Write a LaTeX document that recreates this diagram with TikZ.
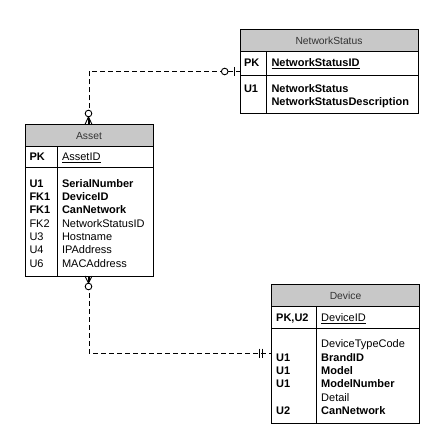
\documentclass[tikz,border=0pt]{standalone}
\usepackage{fontspec}
\setmainfont{Liberation Sans}
\usepackage{tikz}
\usetikzlibrary{positioning}
\usetikzlibrary{calc}
\definecolor{headgray}{RGB}{200,200,200}

\begin{document}
\begin{tikzpicture}[x=1pt, y=-1pt, line width=1pt]
			\tikzstyle{head}=[draw=black, fill=headgray, anchor=north west, inner sep=0pt, text=black!80, font=\fontsize{10.3}{12}\selectfont]
			\tikzstyle{cell}=[draw=black, anchor=north west, inner sep=0pt]
			\tikzstyle{fld}=[inner sep=0pt, anchor=base west, font=\fontsize{11}{13}\selectfont]
			\tikzstyle{fldb}=[inner sep=0pt, anchor=base west, font=\fontsize{11}{13}\selectfont\bfseries]
			\tikzstyle{rel}=[dash pattern=on 5pt off 3pt, line width=0.9pt]
			\tikzstyle{tick}=[line width=0.9pt]
			
			\useasboundingbox (0,0) rectangle (447,438);
			
			% NetworkStatus
			\draw node at (239.5, 29.5) [head, minimum width=178pt, minimum height=22pt] (nshead) {NetworkStatus};
			\draw node at (239.5, 51.5) [cell, minimum width=26.5pt, minimum height=24pt] (nspkkey) {};
			\draw node at (266, 51.5) [cell, minimum width=151.5pt, minimum height=24pt] (nspkfld) {};
			\draw node at (239.5, 75.5) [cell, minimum width=26.5pt, minimum height=38pt] (nskey) {};
			\draw node at (266, 75.5) [cell, minimum width=151.5pt, minimum height=38pt] (nsfld) {};
			
			\draw node at (243.5, 66.3) [fldb] (nspk) {PK};
			\draw node at (271, 66.3) [fldb] (nsid) {\underline{NetworkStatusID}};
			\draw node at (243.5, 92.1) [fldb] (nsu1) {U1};
			\draw node at (271, 92.1) [fldb] (nsstatus) {NetworkStatus};
			\draw node at (271, 105.5) [fldb] (nsdesc) {NetworkStatusDescription};
			
			% Asset
			\draw node at (24.5, 124.5) [head, minimum width=128pt, minimum height=21.5pt] (ashead) {Asset};
			\draw node at (24.5, 146) [cell, minimum width=32pt, minimum height=21.5pt] (aspkkey) {};
			\draw node at (56.5, 146) [cell, minimum width=96pt, minimum height=21.5pt] (aspkfld) {};
			\draw node at (24.5, 167.5) [cell, minimum width=32pt, minimum height=108.5pt] (askey) {};
			\draw node at (56.5, 167.5) [cell, minimum width=96pt, minimum height=108.5pt] (asfld) {};
			
			\draw node at (29, 160.5) [fldb] (aspk) {PK};
			\draw node at (61.5, 160.5) [fld] (asid) {\underline{AssetID}};
			\draw node at (29, 187.1) [fldb] (asu1) {U1};
			\draw node at (61.5, 187.1) [fldb] (asserial) {SerialNumber};
			\draw node at (29, 200.4) [fldb] (asfk1) {FK1};
			\draw node at (61.5, 200.4) [fldb] (asdevice) {DeviceID};
			\draw node at (29, 213.8) [fldb] (asfk1b) {FK1};
			\draw node at (61.5, 213.8) [fldb] (ascan) {CanNetwork};
			\draw node at (29, 227.1) [fld] (asfk2) {FK2};
			\draw node at (61.5, 227.1) [fld] (asstatus) {NetworkStatusID};
			\draw node at (29, 240.4) [fld] (asu3) {U3};
			\draw node at (61.5, 240.4) [fld] (ashost) {Hostname};
			\draw node at (29, 253.8) [fld] (asu4) {U4};
			\draw node at (61.5, 253.8) [fld] (asip) {IPAddress};
			\draw node at (29, 267.1) [fld] (asu6) {U6};
			\draw node at (61.5, 267.1) [fld] (asmac) {MACAddress};
			
			% Device
			\draw node at (271, 284) [head, minimum width=148pt, minimum height=22pt] (dvhead) {Device};
			\draw node at (271, 306) [cell, minimum width=44.7pt, minimum height=22.3pt] (dvpkkey) {};
			\draw node at (315.7, 306) [cell, minimum width=103.3pt, minimum height=22.3pt] (dvpkfld) {};
			\draw node at (271, 328.3) [cell, minimum width=44.7pt, minimum height=95pt] (dvkey) {};
			\draw node at (315.7, 328.3) [cell, minimum width=103.3pt, minimum height=95pt] (dvfld) {};
			
			\draw node at (275.7, 321.5) [fldb] (dvpk) {PK,U2};
			\draw node at (320.7, 321.5) [fld] (dvid) {\underline{DeviceID}};
			\draw node at (320.7, 347.8) [fld] (dvtype) {DeviceTypeCode};
			\draw node at (275.7, 361.1) [fldb] (dvu1) {U1};
			\draw node at (320.7, 361.1) [fldb] (dvbrand) {BrandID};
			\draw node at (275.7, 374.5) [fldb] (dvu1b) {U1};
			\draw node at (320.7, 374.5) [fldb] (dvmodel) {Model};
			\draw node at (275.7, 387.8) [fldb] (dvu1c) {U1};
			\draw node at (320.7, 387.8) [fldb] (dvnumber) {ModelNumber};
			\draw node at (320.7, 401.1) [fld] (dvdetail) {Detail};
			\draw node at (275.7, 414.5) [fldb] (dvu2) {U2};
			\draw node at (320.7, 414.5) [fldb] (dvcan) {CanNetwork};
			
			% relationships
			\coordinate (nsjoin) at (239.5, 71.5);
			\coordinate (dvjoin) at (271, 353);
			\draw [rel]  (ashead.north) |- (nsjoin);
			\draw [rel]  (askey.south -| ashead.north) |- (dvjoin);
			
			% Asset -> NetworkStatus: zero or many / zero or one
			\draw [tick, fill=white]  (88.5, 113.5) circle (3.3pt);
			\draw [tick]  (88.5, 116.8) -- (85, 124.5);
			\draw [tick]  (88.5, 116.8) -- (88.5, 124.5);
			\draw [tick]  (88.5, 116.8) -- (92, 124.5);
			\draw [tick, fill=white]  (224.7, 71.5) circle (3.3pt);
			\draw [tick]  (234, 67) -- (234, 76);
			
			% Asset -> Device: zero or many / exactly one
			\draw [tick, fill=white]  (88.5, 286.5) circle (3.3pt);
			\draw [tick]  (88.5, 283.2) -- (85, 276);
			\draw [tick]  (88.5, 283.2) -- (88.5, 276);
			\draw [tick]  (88.5, 283.2) -- (92, 276);
			\draw [tick]  (259, 348.5) -- (259, 357.5);
			\draw [tick]  (262.7, 348.5) -- (262.7, 357.5);
\end{tikzpicture}
\end{document}
